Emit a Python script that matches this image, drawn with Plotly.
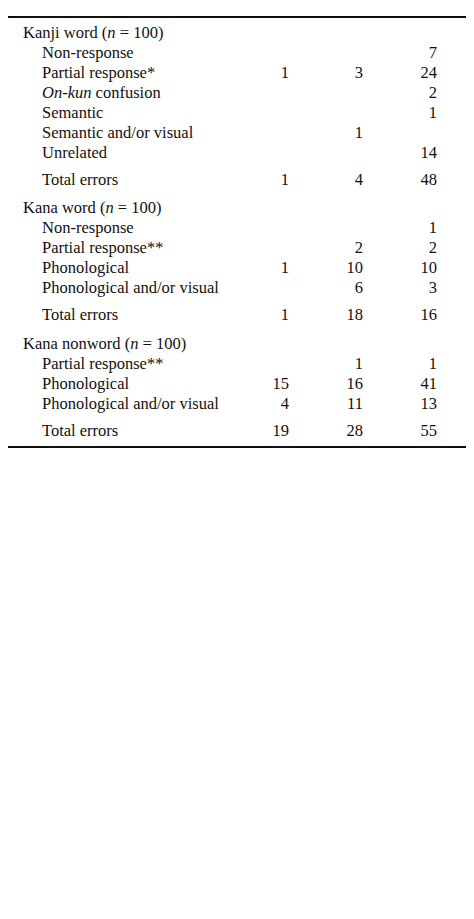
import plotly.graph_objects as go

# table content
groups = ["Kanji word (<i>n</i> = 100)", "Kana word (<i>n</i> = 100)", "Kana nonword (<i>n</i> = 100)"]
kanji_rows = ["Non-response", "Partial response*", "<i>On-kun</i> confusion", "Semantic",
              "Semantic and/or visual", "Unrelated"]
kanji_p1 = [None, 1, None, None, None, None]
kanji_p2 = [None, 3, None, None, 1, None]
kanji_p3 = [7, 24, 2, 1, None, 14]
kanji_total = [1, 4, 48]
kana_rows = ["Non-response", "Partial response**", "Phonological", "Phonological and/or visual"]
kana_p1 = [None, None, 1, None]
kana_p2 = [None, 2, 10, 6]
kana_p3 = [1, 2, 10, 3]
kana_total = [1, 18, 16]
non_rows = ["Partial response**", "Phonological", "Phonological and/or visual"]
non_p1 = [None, 15, 4]
non_p2 = [1, 16, 11]
non_p3 = [1, 41, 13]
non_total = [19, 28, 55]

footnotes = [
    "*Partial response: one symbol of a two-character Kanji word could",
    "not be read or was misread.  <i>On-kun</i> confusion:  a patient read a",
    "Kanji word irrespective of its meaning. As a result, a Kanji word was",
    "read in a way different from the original reading, e.g.見本 ([mihon],",
    "sample) → [mimoto], where 本 is read as [moto] (<i>kun</i>-reading; a",
    "type of reading of a Kanji symbol that conveys its meaning in the",
    "Japanese language) instead of [hon] (<i>on</i>-reading; another type of",
    "reading of a Kanji symbol that conveys its phonetic value according",
    "to the Chinese pronunciation).  Semantic errors:  those semantically",
    "associated with the target word, e.g. 今夜 ([konya], tonight) → 昨夜",
    "([sakuya], last night).  Some semantic errors included changing a",
    "character into another character visually similar to a target character",
    "(semantic and/or visual), e.g. 月日 ([tsukihi], months and days) →",
    "明日 ([asu], tomorrow).  Unrelated response:  the changing of a Kanji",
    "into another Kanji that has no visual or phonological similarity to the",
    "correct answer.",
    "**Partial response:  one or more Kana characters of a Kana word",
    "could not be read.  Phonological response:  one or more Kana char-",
    "acters of a Kana word were substituted for other Kana (phonemic",
    "paralexia).  Some phonological errors included changing a character",
    "into another character visually similar to a target character (phono-",
    "logical and/or visual), e.g. けんい ([keni], authority)→はんい ([hani],",
    "extent).",
]

W, H = 474, 919
OFF = 8  # page body margin
FONT = "Liberation Serif"
FS = 16.5

labels, label_x, row_y = [], [], []
c1, c2, c3 = [], [], []

def add(text, indent, y, vals):
    labels.append(text); label_x.append(indent); row_y.append(y)
    c1.append(vals[0]); c2.append(vals[1]); c3.append(vals[2])

add("Patient", 23, 6, ["1", "2", "3"])
y = 34
for g, rows, a, b, c, tot in [
    (groups[0], kanji_rows, kanji_p1, kanji_p2, kanji_p3, kanji_total),
    (groups[1], kana_rows, kana_p1, kana_p2, kana_p3, kana_total),
    (groups[2], non_rows, non_p1, non_p2, non_p3, non_total),
]:
    add(g, 23, y, [None] * 3)
    y += 19.9
    for r, v1, v2, v3 in zip(rows, a, b, c):
        add(r, 42, y, [v1, v2, v3])
        y += 19.9
    y += 7.5
    add("Total errors", 42, y, tot)
    y += 28.5

fmt = lambda v: "" if v is None else str(v)
fig = go.Figure()
fig.add_trace(go.Scatter(x=label_x, y=row_y, mode="text", text=labels, cliponaxis=False,
                         textposition="middle right", textfont=dict(size=FS, family=FONT, color="#111")))
for x, col in [(289, c1), (363, c2), (437, c3)]:
    fig.add_trace(go.Scatter(x=[x] * len(col), y=row_y, mode="text", text=[fmt(v) for v in col],
                             cliponaxis=False, textposition="middle left",
                             textfont=dict(size=FS, family=FONT, color="#111")))

for yl in [17, 447]:
    fig.add_shape(type="line", x0=OFF, x1=W, y0=yl, y1=yl, line=dict(color="#111", width=2.2))

for i, line in enumerate(footnotes):
    fig.add_annotation(x=4, y=465 + i * 20.27, text=line, showarrow=False, xanchor="left",
                       yanchor="middle", font=dict(size=FS, family=FONT, color="#111"))

fig.update_layout(width=W - OFF, height=H - OFF, margin=dict(l=0, r=0, t=0, b=0), showlegend=False,
                  plot_bgcolor="white", paper_bgcolor="white",
                  xaxis=dict(range=[OFF, W], visible=False),
                  yaxis=dict(range=[H, OFF], visible=False))
fig.write_html("out.html")
